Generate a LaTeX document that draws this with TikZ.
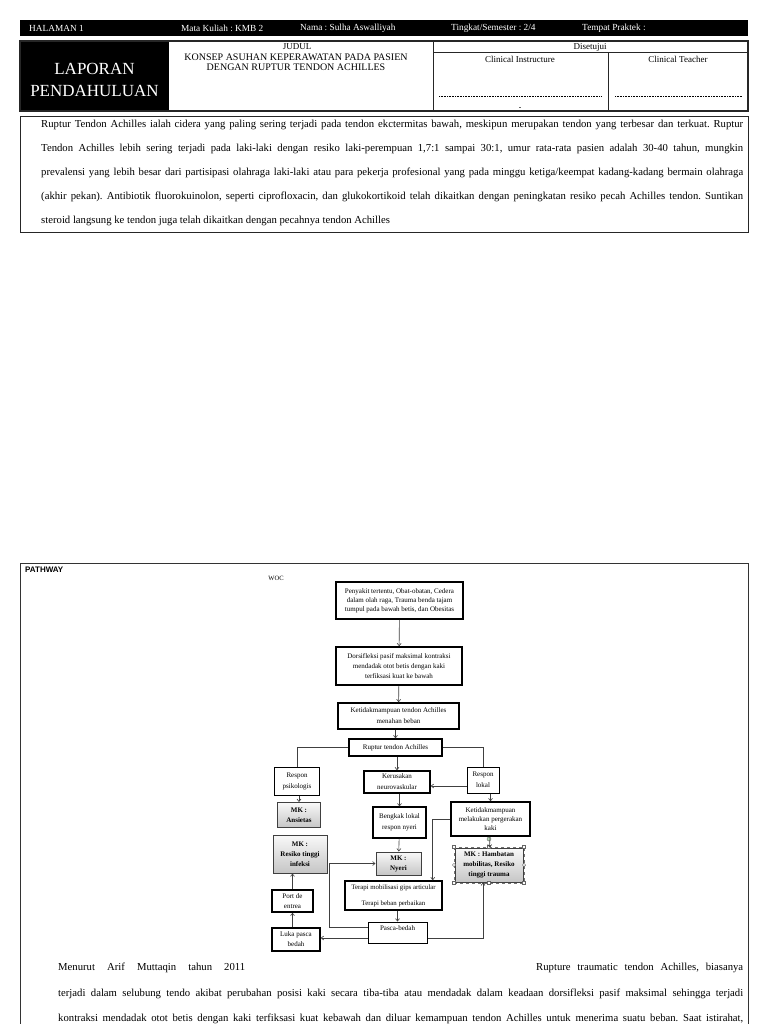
\documentclass[tikz,border=0pt]{standalone}
\usepackage{fontspec}
\setmainfont{Liberation Serif}
\newfontfamily\labelsans{Liberation Sans}
\usetikzlibrary{arrows.meta,positioning,calc}

\newcommand{\pwfont}{\fontsize{7}{9}\selectfont}
\newcommand{\parfont}{\fontsize{10.7}{12}\selectfont}
\frenchspacing

\begin{document}
\begin{tikzpicture}[x=1pt,y=-1pt,
  font=\parfont,
  hdr/.style={anchor=west, text=white, inner sep=0pt, font=\fontsize{9.3}{10}\selectfont},
  cell/.style={inner sep=0pt, font=\fontsize{9}{10}\selectfont},
  parline/.style={anchor=west, inner sep=0pt},
  pbox/.style={draw, line width=1.5pt, align=center, inner sep=1pt, font=\pwfont},
  thinbox/.style={draw, line width=1pt, align=center, inner sep=1pt, font=\pwfont},
  mkbox/.style={draw=black!75, line width=1pt, top color=gray!5, bottom color=gray!45,
    align=center, inner sep=1pt, font=\pwfont\bfseries},
  arr/.style={-{Straight Barb[length=2.5pt,width=4pt]}, draw=black!75, line width=0.6pt},
  link/.style={draw=black!75, line width=0.6pt},
  handle/.style={draw=black!60, fill=white, line width=0.4pt}
]
\fill[white] (0,0) rectangle (768,1024);
\useasboundingbox (0,0) rectangle (768,1024);

% header
\fill[black] (20,20) rectangle (748,36);
\node[hdr] (halaman) at (29,28) {HALAMAN 1};
\node[hdr] (matkul) at (181,28) {Mata Kuliah : KMB 2};
\node[hdr] (nama) at (300,28) {Nama : Sulha Aswalliyah};
\node[hdr] (tingkat) at (451,28) {Tingkat/Semester : 2/4};
\node[hdr] (tempat) at (582,28) {Tempat Praktek :};

\fill[black] (20,41) rectangle (169,111);
\draw[line width=1.2pt, black!85] (20,41) rectangle (748,111);
\draw[line width=1pt, black!85] (433,41) -- (433,111);
\draw[line width=1pt, black!85] (433,53) -- (748,53);
\draw[line width=1pt, black!85] (608,53) -- (608,111);
\node[text=white, align=center, inner sep=0pt, font=\fontsize{17}{22}\selectfont] (laporan) at (94.5,80) {LAPORAN\\PENDAHULUAN};
\node[cell] (judul) at (297,47) {JUDUL};
\node[cell, align=center, font=\fontsize{10}{10.5}\selectfont] (konsep) at (296,62) {KONSEP ASUHAN KEPERAWATAN PADA PASIEN\\DENGAN RUPTUR TENDON ACHILLES};
\node[cell] (setuju) at (590,47) {Disetujui};
\node[cell] (instruktur) at (520,59) {Clinical Instructure};
\node[cell] (teacher) at (678,59) {Clinical Teacher};
\draw[dash pattern=on 0.6pt off 1pt, line width=0.5pt] (439,96) -- (602,96);
\draw[dash pattern=on 0.6pt off 1pt, line width=0.5pt] (615,96) -- (742,96);
\draw[line width=0.4pt, black!60] (519,107.5) -- (521,107.5);

% paragraf pengantar
\draw[line width=1pt, black!85] (20,117) rectangle (748,233);
\node[parline] (par1) at (41,125) {\makebox[702pt][s]{Ruptur Tendon Achilles ialah cidera yang paling sering terjadi pada tendon ekctermitas bawah, meskipun merupakan tendon yang terbesar dan terkuat. Ruptur}};
\node[parline] (par2) at (41,149) {\makebox[702pt][s]{Tendon Achilles lebih sering terjadi pada laki-laki dengan resiko laki-perempuan 1,7:1 sampai 30:1, umur rata-rata pasien adalah 30-40 tahun, mungkin}};
\node[parline] (par3) at (41,173) {\makebox[702pt][s]{prevalensi yang lebih besar dari partisipasi olahraga laki-laki atau para pekerja profesional yang pada minggu ketiga/keempat kadang-kadang bermain olahraga}};
\node[parline] (par4) at (41,197) {\makebox[702pt][s]{(akhir pekan). Antibiotik fluorokuinolon, seperti ciprofloxacin, dan glukokortikoid telah dikaitkan dengan peningkatan resiko pecah Achilles tendon. Suntikan}};
\node[parline] (par5) at (41,221) {steroid langsung ke tendon juga telah dikaitkan dengan pecahnya tendon Achilles};

% pathway
\draw[line width=0.9pt, black!80] (20,1024) -- (20,563) -- (748,563) -- (748,1024);
\node[anchor=west, inner sep=0pt, font=\labelsans\bfseries\fontsize{8}{9}\selectfont] (pathway) at (25,570) {PATHWAY};
\node[inner sep=0pt, font=\fontsize{6.5}{7}\selectfont] (woc) at (276,578) {WOC};

\node[pbox, minimum width=127pt, minimum height=37pt] (penyakit) at (399.5,600.5) {Penyakit tertentu, Obat-obatan, Cedera\\dalam olah raga, Trauma benda tajam\\tumpul pada bawah betis, dan Obesitas};
\node[pbox, minimum width=126pt, minimum height=38pt, font=\fontsize{7}{10}\selectfont] (dorsi) at (399,666) {Dorsifleksi pasif maksimal kontraksi\\mendadak otot betis dengan kaki\\terfiksasi kuat ke bawah};
\node[pbox, minimum width=121pt, minimum height=26pt, font=\fontsize{7}{11}\selectfont] (ketahan) at (398.5,716) {Ketidakmampuan tendon Achilles\\menahan beban};
\node[pbox, minimum width=93pt, minimum height=17pt] (ruptur) at (395.5,747.5) {Ruptur tendon Achilles};
\node[thinbox, minimum width=45pt, minimum height=28pt, font=\fontsize{7}{11}\selectfont] (psiko) at (297,781) {Respon\\psikologis};
\node[pbox, minimum width=66pt, minimum height=22pt, font=\fontsize{7}{11}\selectfont] (rusak) at (397,782) {Kerusakan\\neurovaskular};
\node[thinbox, minimum width=32pt, minimum height=26pt, font=\fontsize{7}{11}\selectfont] (lokal) at (483,780) {Respon\\lokal};
\node[mkbox, minimum width=43pt, minimum height=25pt, font=\fontsize{7}{10}\selectfont\bfseries] (ansietas) at (299,815) {MK :\\Ansietas};
\node[pbox, line width=1.2pt, minimum width=53pt, minimum height=31pt, font=\fontsize{7}{11}\selectfont] (bengkak) at (399.5,822.5) {Bengkak lokal\\respon nyeri};
\node[pbox, minimum width=79pt, minimum height=34pt] (ketidak) at (490.5,819) {Ketidakmampuan\\melakukan pergerakan\\kaki};
\node[mkbox, minimum width=54pt, minimum height=38pt, font=\fontsize{7}{10}\selectfont\bfseries] (resiko) at (300,854) {MK :\\Resiko tinggi\\infeksi};
\node[mkbox, minimum width=45pt, minimum height=23pt, font=\fontsize{7}{10}\selectfont\bfseries] (nyeri) at (398.5,863.5) {MK :\\Nyeri};
\node[mkbox, minimum width=68pt, minimum height=34pt, font=\fontsize{7}{10}\selectfont\bfseries] (hambatan) at (489,865) {MK : Hambatan\\mobilitas, Resiko\\tinggi trauma};
\node[pbox, minimum width=97pt, minimum height=29pt, font=\fontsize{6.8}{9}\selectfont] (terapi) at (393.5,895.5) {Terapi mobilisasi gips articular\\[7pt]Terapi beban perbaikan};
\node[thinbox, minimum width=59pt, minimum height=21pt] (pasca) at (397.5,932.5) {Pasca-bedah\\\mbox{}};
\node[pbox, minimum width=48pt, minimum height=23pt, font=\fontsize{7}{10}\selectfont] (luka) at (296,939.5) {Luka pasca\\bedah};
\node[pbox, minimum width=41pt, minimum height=22pt, font=\fontsize{7}{10}\selectfont] (port) at (292.5,901) {Port de\\entrea};

% bingkai seleksi
\draw[dashed, black!55, line width=0.4pt] (454,847) rectangle (524,883);
\foreach \hx/\hy in {454/847,489/847,524/847,454/883,489/883,524/883}
  \draw[handle] (\hx-1.6,\hy-1.6) rectangle (\hx+1.6,\hy+1.6);
\foreach \hx in {454,524}
  \draw[handle] (\hx,865) circle (1.7pt);
\draw[handle, fill=green!35!gray!40] (489,839) circle (2pt);

% penghubung
\draw[arr] (penyakit) -- (dorsi);
\draw[arr] (dorsi) -- (ketahan);
\draw[arr] (ketahan.south -| ruptur.north) -- (ruptur.north);
\draw[link] (ruptur.west) -| (psiko.north);
\draw[link] (ruptur.east) -| (lokal.north);
\draw[arr] (rusak.north |- ruptur.south) -- (rusak.north);
\draw[arr] ([yshift=-6pt]lokal.west) -- ([yshift=-6pt]lokal.west -| rusak.east);
\draw[arr] (psiko.south -| ansietas.north) -- (ansietas.north);
\draw[arr] (rusak.south -| bengkak.north) -- (bengkak.north);
\draw[arr] (lokal.south -| ketidak.north) -- (ketidak.north);
\draw[arr] (bengkak) -- (nyeri);
\draw[arr] (ketidak) -- (hambatan);
\draw[arr] (ketidak.west) -| ([xshift=-10pt]terapi.north east);
\draw[arr] (pasca.north |- terapi.south) -- (pasca.north);
\draw[arr] ([yshift=5.5pt]pasca.west) -- ++(-38,0) |- (nyeri.west);
\draw[arr] ([yshift=-5.5pt]pasca.west) -- ([yshift=-5.5pt]pasca.west -| luka.east);
\draw[arr] ([yshift=-6pt]pasca.east) -| ([xshift=-6pt]hambatan.south);
\draw[arr] (luka.north -| port.south) -- (port.south);
\draw[arr] (port.north) -- (port.north |- resiko.south);

% teks bawah
\node[parline] (menurut) at (58,968) {\makebox[187pt][s]{Menurut Arif Muttaqin tahun 2011}};
\node[parline] (rupture) at (536,968) {\makebox[207pt][s]{Rupture traumatic tendon Achilles, biasanya}};
\node[parline] (bawah1) at (58,994) {\makebox[685pt][s]{terjadi dalam selubung tendo akibat perubahan posisi kaki secara tiba-tiba atau mendadak dalam keadaan dorsifleksi pasif maksimal sehingga terjadi}};
\node[parline] (bawah2) at (58,1019) {\makebox[685pt][s]{kontraksi mendadak otot betis dengan kaki terfiksasi kuat kebawah dan diluar kemampuan tendon Achilles untuk menerima suatu beban. Saat istirahat,}};
\end{tikzpicture}
\end{document}
